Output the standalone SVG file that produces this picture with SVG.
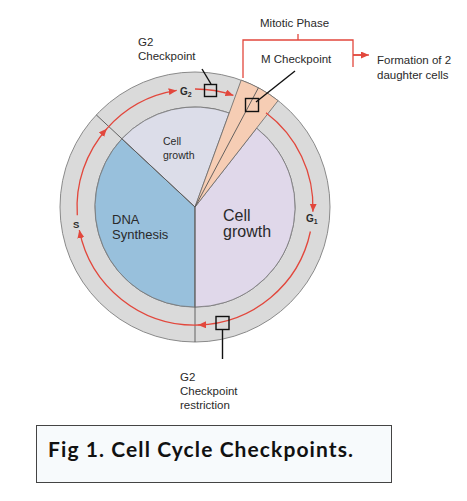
<svg xmlns="http://www.w3.org/2000/svg" width="467" height="501" viewBox="0 0 467 501">
<style>
.lbl{font-family:"Liberation Sans",Arial,sans-serif;fill:#2a2a2a}
.phase{font-family:"Liberation Sans",Arial,sans-serif;font-weight:bold;fill:#2a2a2a}
.red{fill:none;stroke:#e2473c;stroke-width:1.3}
.div{stroke:#555;stroke-width:0.9;fill:none}
.lead{stroke:#111;stroke-width:1.4;fill:none}
.chk{fill:none;stroke:#111;stroke-width:1.4}
</style>
<defs>
<marker id="ah" markerUnits="userSpaceOnUse" markerWidth="10" markerHeight="8" refX="8" refY="3.5" orient="auto">
<path d="M0,0 L8,3.5 L0,7 Z" fill="#e2473c"/>
</marker>
</defs>
<rect width="467" height="501" fill="#ffffff"/>

<g id="cycle">
<circle cx="195" cy="207" r="135" fill="#dadada" stroke="#8a8a8a" stroke-width="1"/>
<circle cx="195" cy="207" r="100" fill="#dcdde9" stroke="#777" stroke-width="1"/>
</g>

<g id="dna-synthesis">
<path d="M195,207 L195,307 A100,100 0 0 1 121.9,138.8 Z" fill="#98c0dc" stroke="#777" stroke-width="0.8"/>
<text class="lbl" x="112" y="224" font-size="13">DNA</text>
<text class="lbl" x="112" y="239" font-size="13">Synthesis</text>
</g>

<g id="cell-growth-top">
<path d="M195,207 L121.9,138.8 A100,100 0 0 1 229.2,113.0 Z" fill="#dcdde9" stroke="#777" stroke-width="0.8"/>
<text class="lbl" x="163" y="145" font-size="10.5">Cell</text>
<text class="lbl" x="163" y="159" font-size="10.5">growth</text>
</g>

<g id="cell-growth-g1">
<path d="M195,207 L256.6,128.2 A100,100 0 0 1 195,307 Z" fill="#e0d8ea" stroke="#777" stroke-width="0.8"/>
<text class="lbl" x="223" y="221" font-size="16">Cell</text>
<text class="lbl" x="223" y="237" font-size="16">growth</text>
</g>

<g id="mitotic-wedge">
<path d="M195,207 L241.2,80.1 A135,135 0 0 1 278.1,100.6 Z" fill="#f6cdb4" stroke="#666" stroke-width="0.8"/>
<line class="div" x1="195" y1="207" x2="258.4" y2="87.8"/>
</g>

<g id="dividers">
<line class="div" x1="195" y1="207" x2="96.3" y2="114.9"/>
<line class="div" x1="195" y1="207" x2="195" y2="342"/>
</g>

<g id="connectors">
<path class="red" d="M310.4,231.5 A118,118 0 0 1 198.1,325.0" marker-end="url(#ah)"/>
<path class="red" d="M198.6,325.0 A118,118 0 0 1 79.3,230.1" marker-end="url(#ah)"/>
<path class="red" d="M77.3,215.2 A118,118 0 0 1 106.8,128.7" marker-end="url(#ah)"/>
<path class="red" d="M106.4,129.1 A118,118 0 0 1 176.7,90.4" marker-end="url(#ah)"/>
<path class="red" d="M195,89 A118,118 0 0 1 233.4,95.4" marker-end="url(#ah)"/>
<path class="red" d="M266.0,112.8 A118,118 0 0 1 312.9,211.7" marker-end="url(#ah)"/>
<path class="red" d="M243,78 V40 H353 V67 M298,40 V34 M353,55 H362" />
<path class="red" d="M353,55 H369" marker-end="url(#ah)"/>
<line class="lead" x1="202" y1="69" x2="211" y2="84"/>
<line class="lead" x1="295" y1="71" x2="256" y2="102"/>
<line class="lead" x1="222.5" y1="329.5" x2="222.5" y2="359"/>
</g>

<g id="g2-checkpoint">
<rect class="chk" x="204.5" y="84.5" width="12" height="12"/>
<text class="lbl" x="138" y="46" font-size="11.5">G2</text>
<text class="lbl" x="138" y="60" font-size="11.5">Checkpoint</text>
</g>

<g id="m-checkpoint">
<rect class="chk" x="245.5" y="98.5" width="13" height="13"/>
<text class="lbl" x="261" y="63" font-size="11.5">M Checkpoint</text>
</g>

<g id="g2-restriction">
<rect class="chk" x="216" y="316.5" width="13" height="13"/>
<text class="lbl" x="180" y="381" font-size="11.5">G2</text>
<text class="lbl" x="180" y="395" font-size="11.5">Checkpoint</text>
<text class="lbl" x="180" y="409" font-size="11.5">restriction</text>
</g>

<g id="mitotic-phase">
<text class="lbl" x="260" y="27" font-size="11.5">Mitotic Phase</text>
</g>

<g id="daughter-cells">
<text class="lbl" x="377" y="64" font-size="11.5">Formation of 2</text>
<text class="lbl" x="377" y="79" font-size="11.5">daughter cells</text>
</g>

<g id="phase-labels">
<text class="phase" x="180" y="95" font-size="10">G<tspan font-size="7" dy="2">2</tspan></text>
<text class="phase" x="306" y="222" font-size="10">G<tspan font-size="7" dy="2">1</tspan></text>
<text class="phase" x="73" y="228" font-size="9.5">S</text>
</g>

<g id="caption">
<rect x="36.5" y="425.5" width="355" height="57" fill="#f7fafc" stroke="#444" stroke-width="1"/>
<text x="48" y="457" font-family="Lato,'Open Sans',sans-serif" font-weight="bold" font-size="21" fill="#111" textLength="305" lengthAdjust="spacing">Fig 1. Cell Cycle Checkpoints.</text>
</g>
</svg>
